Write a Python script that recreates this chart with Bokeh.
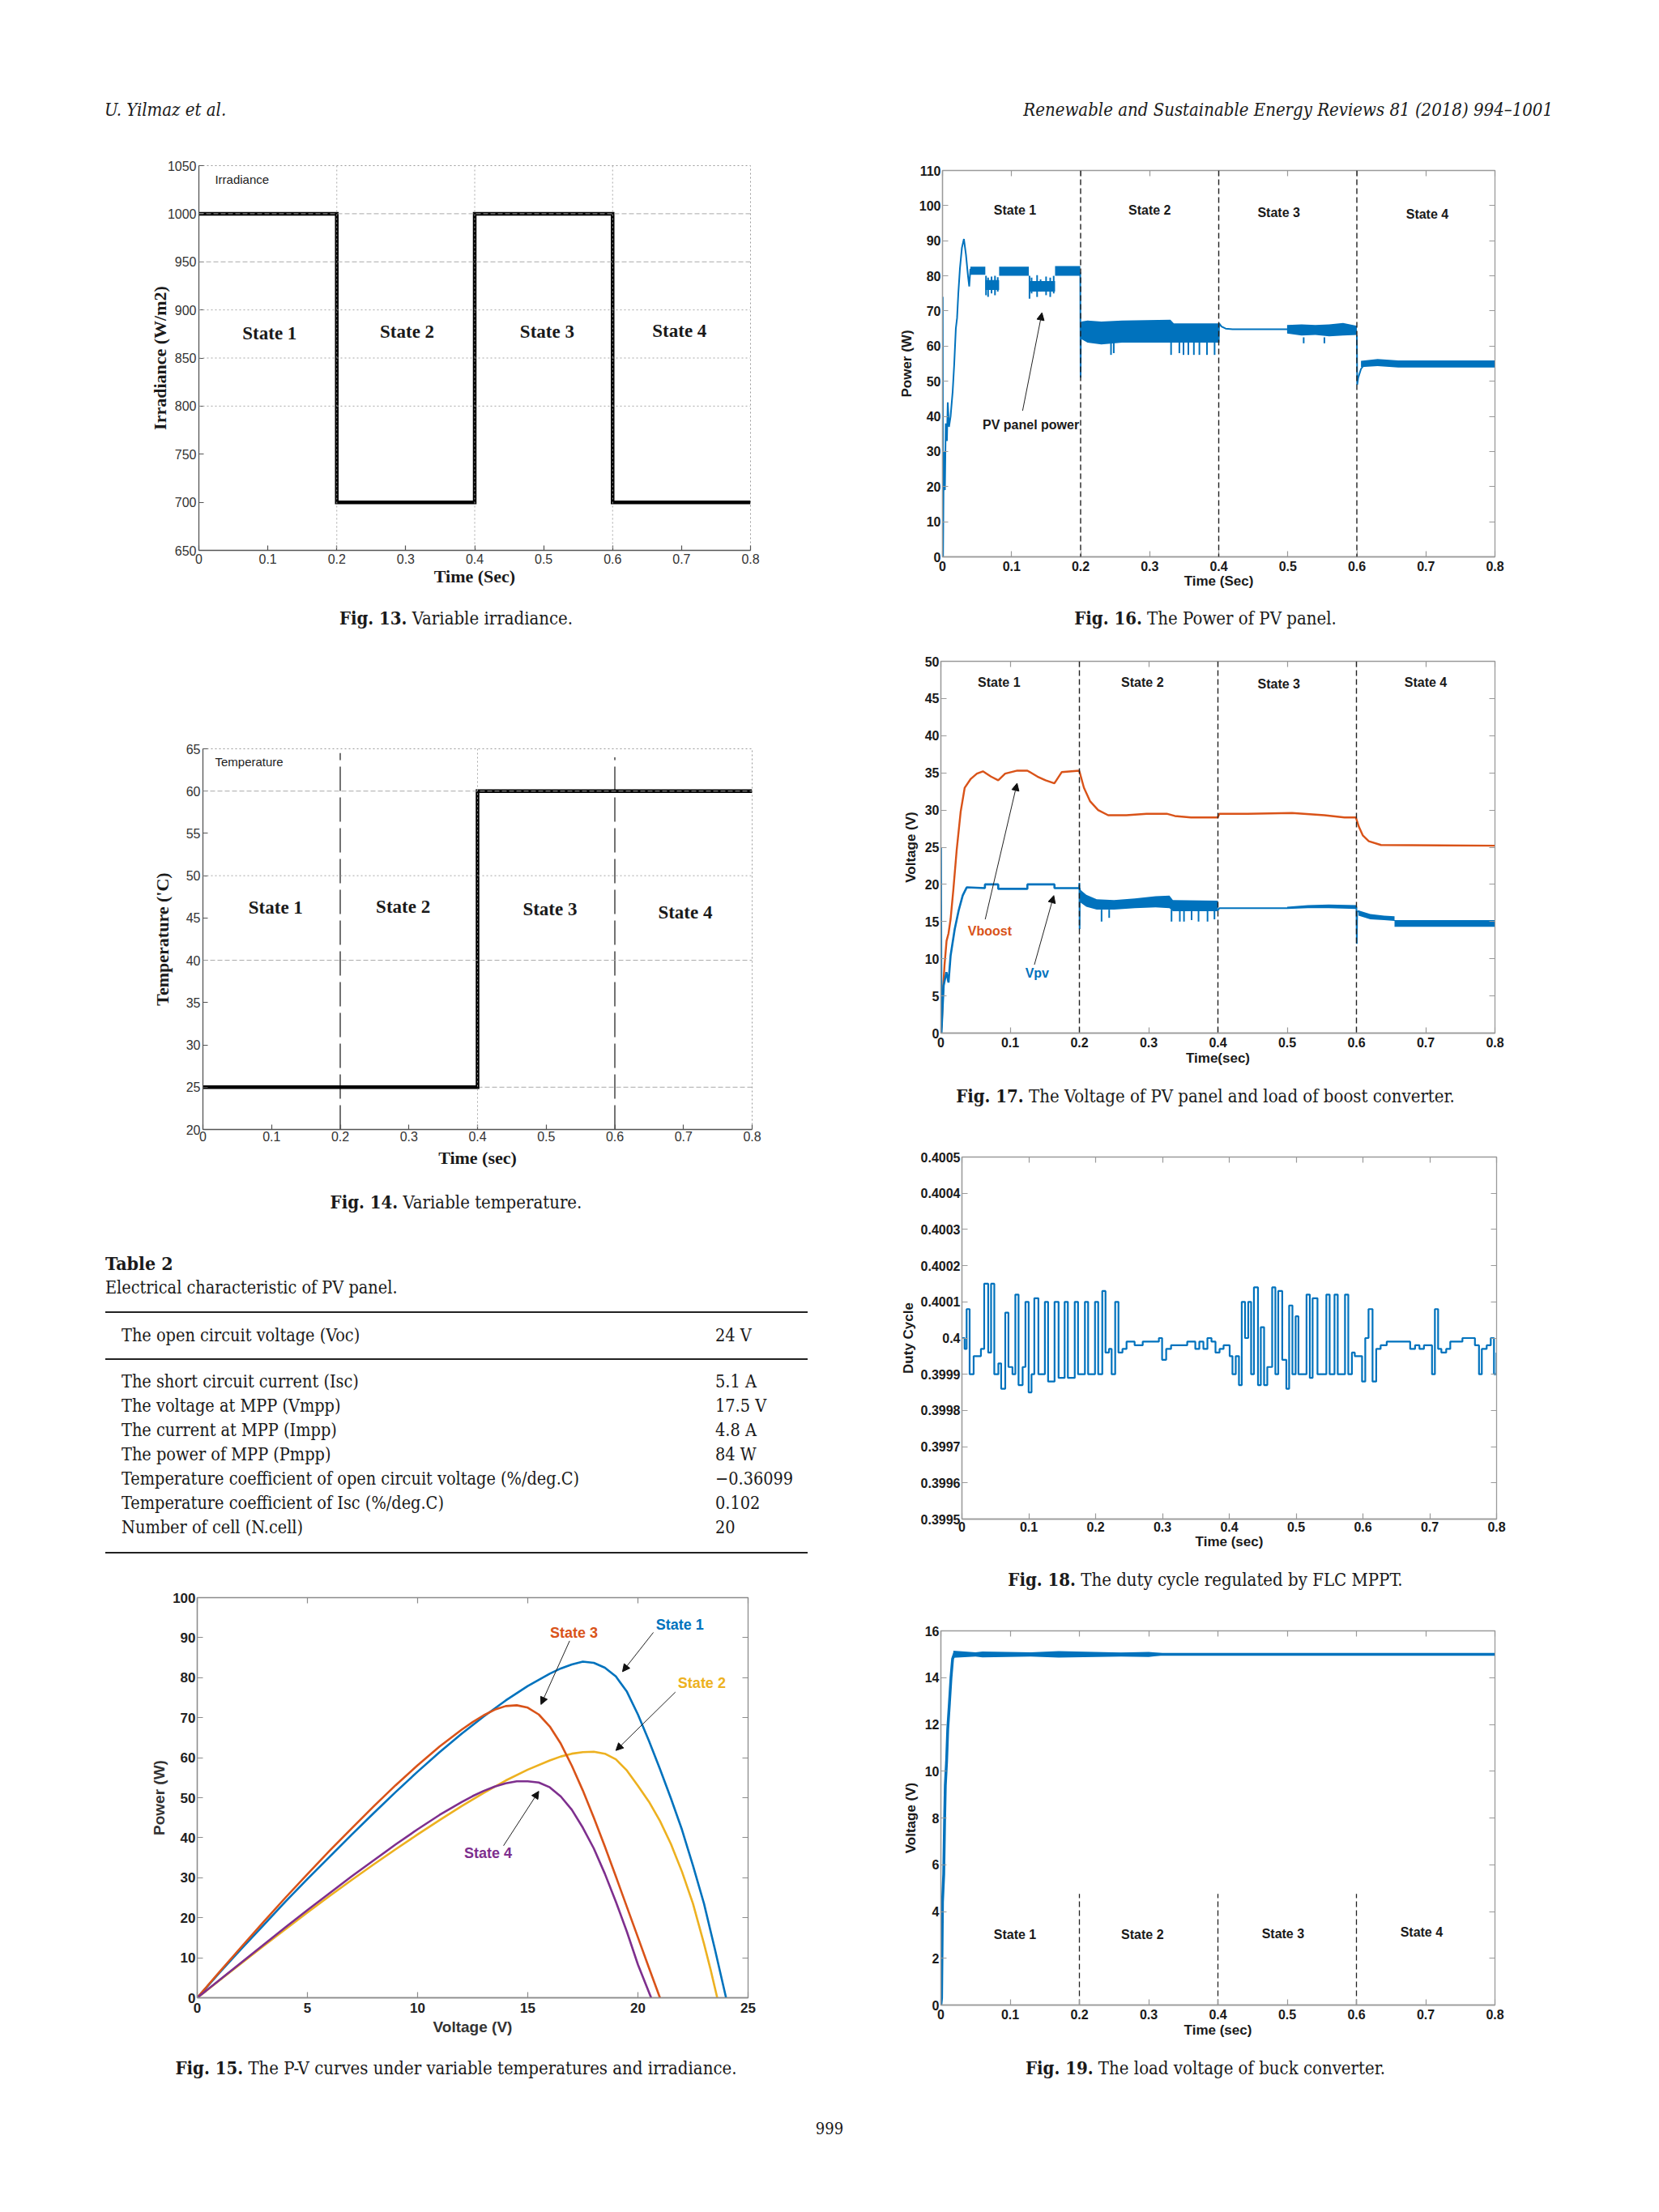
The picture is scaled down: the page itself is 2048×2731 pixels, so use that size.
from bokeh.plotting import figure
from bokeh.models import (Range1d, FixedTicker, CustomJSTickFormatter, LinearAxis,
                          Span, Label, Arrow, NormalHead, Div, Column, Row, Spacer)
from bokeh.embed import file_html
from bokeh.resources import INLINE

# ============================ DATA ============================
state_names = ["State 1", "State 2", "State 3", "State 4"]
state_bounds = [0.2, 0.4, 0.6]
time_ticks = [0, 0.1, 0.2, 0.3, 0.4, 0.5, 0.6, 0.7, 0.8]

# Fig 13 - irradiance
irr_time = [0, 0.2, 0.4, 0.6, 0.8]
irr_value = [1000, 700, 1000, 700, 700]
irr_ticks = [650, 700, 750, 800, 850, 900, 950, 1000, 1050]

# Fig 14 - temperature
temp_time = [0, 0.4, 0.8]
temp_value = [25, 60, 60]
temp_ticks = [20, 25, 30, 35, 40, 45, 50, 55, 60, 65]

# Table 2
table_head_param = "The open circuit voltage (Voc)"
table_head_value = "24 V"
table_params = ["The short circuit current (Isc)", "The voltage at MPP (Vmpp)",
                "The current at MPP (Impp)", "The power of MPP (Pmpp)",
                "Temperature coefficient of open circuit voltage (%/deg.C)",
                "Temperature coefficient of Isc (%/deg.C)", "Number of cell (N.cell)"]
table_values = ["5.1 A", "17.5 V", "4.8 A", "84 W", "\u22120.36099", "0.102", "20"]

# Fig 15 - P-V curves
pv_v_s1 = [0, 1, 2, 3, 4, 5, 6, 7, 8, 9, 10, 11, 12, 13, 14, 15, 16, 16.5, 17, 17.5, 18, 18.5, 19, 19.5,
           20, 20.5, 21, 21.5, 22, 22.5, 23, 23.5, 24]
pv_p_s1 = [0, 6.2, 12.2, 18.1, 24.0, 29.7, 35.2, 40.7, 46.1, 51.4, 56.5, 61.4, 66.0, 70.3, 74.3, 77.9, 81.0,
           82.3, 83.3, 84.0, 83.7, 82.5, 80.3, 76.5, 70.8, 64.2, 57.2, 49.8, 42.0, 33.0, 23.5, 12.0, 0]
pv_v_s2 = [0, 1, 2, 3, 4, 5, 6, 7, 8, 9, 10, 11, 12, 13, 14, 15, 16, 16.5, 17, 17.5, 18, 18.5, 19, 19.5,
           20, 20.5, 21, 21.5, 22, 22.5, 23, 23.3, 23.6]
pv_p_s2 = [0, 4.3, 8.6, 12.9, 17.1, 21.3, 25.4, 29.4, 33.3, 37.1, 40.8, 44.4, 47.9, 51.2, 54.3, 57.0, 59.3,
           60.3, 61.0, 61.4, 61.5, 61.0, 59.6, 56.8, 53.0, 49.0, 44.2, 38.4, 31.5, 23.5, 13.5, 7.0, 0]
pv_v_s3 = [0, 1, 2, 3, 4, 5, 6, 7, 8, 9, 10, 11, 12, 12.5, 13, 13.5, 14, 14.5, 15, 15.5, 16, 16.5, 17,
           17.5, 18, 18.5, 19, 19.5, 20, 20.5, 21]
pv_p_s3 = [0, 6.4, 12.7, 18.9, 25.0, 30.9, 36.7, 42.3, 47.8, 53.1, 58.1, 62.8, 67.0, 68.9, 70.6, 72.0, 72.9,
           73.1, 72.5, 70.8, 67.8, 63.5, 58.0, 51.8, 45.0, 37.8, 30.3, 22.7, 15.1, 7.5, 0]
pv_v_s4 = [0, 1, 2, 3, 4, 5, 6, 7, 8, 9, 10, 11, 12, 12.5, 13, 13.5, 14, 14.5, 15, 15.5, 16, 16.5, 17,
           17.5, 18, 18.5, 19, 19.5, 20, 20.6]
pv_p_s4 = [0, 4.4, 8.8, 13.2, 17.6, 21.9, 26.1, 30.3, 34.3, 38.3, 42.1, 45.7, 48.9, 50.4, 51.7, 52.8, 53.6,
           54.1, 54.1, 53.8, 52.6, 50.3, 47.0, 42.5, 37.3, 31.0, 24.0, 16.5, 8.3, 0]
pv_v_ticks = [0, 5, 10, 15, 20, 25]
pv_p_ticks = [0, 10, 20, 30, 40, 50, 60, 70, 80, 90, 100]

# Fig 16 - PV panel power
p16_t = [0, 0.0003, 0.0008, 0.0015, 0.0025, 0.0035, 0.0047, 0.0064, 0.0076, 0.0094, 0.0117, 0.0147,
         0.017, 0.0193, 0.0211, 0.0229, 0.0252, 0.0281, 0.031, 0.034, 0.0369, 0.0387, 0.0404]
p16_p = [0, 74, 0, 20, 30, 19, 38, 33, 44, 37, 40, 47, 55, 65, 68, 75, 82, 88, 90.5, 86, 80, 77, 82]
p16_b1_t = [0.0404, 0.062, 0.062, 0.082, 0.082, 0.125, 0.125, 0.163, 0.163, 0.1995]
p16_b1_lo = [80.3, 80.3, 76.0, 76.0, 80.0, 80.0, 75.5, 75.5, 80.0, 80.0]
p16_b1_hi = [82.6, 82.6, 78.8, 78.8, 82.6, 82.6, 78.5, 78.5, 82.8, 82.8]
p16_dip_t = [0.063, 0.066, 0.071, 0.076, 0.080, 0.126, 0.129, 0.137, 0.142, 0.150, 0.156, 0.161]
p16_dip_lo = [74.5, 74.0, 75.0, 74.5, 75.5, 73.5, 75.0, 74.0, 75.5, 74.5, 74.0, 75.0]
p16_dip_hi = [80.0, 79.5, 79.8, 80.0, 79.6, 80.0, 79.5, 80.2, 79.0, 79.8, 79.5, 80.0]
p16_tr2_t = [0.1995, 0.2, 0.2004, 0.2012]
p16_tr2_p = [81, 51, 66, 64]
p16_b2_t = [0.2012, 0.21, 0.23, 0.26, 0.33, 0.335, 0.4]
p16_b2_lo = [62.0, 61.0, 60.5, 61.0, 61.0, 61.0, 61.0]
p16_b2_hi = [67.0, 67.3, 67.0, 67.3, 67.5, 66.5, 66.5]
p16_spk_t = [0.244, 0.248, 0.331, 0.343, 0.349, 0.356, 0.364, 0.372, 0.383, 0.394, 0.523, 0.553]
p16_spk_base = [61, 61, 61, 61, 61, 61, 61, 61, 61, 61, 62.5, 62.5]
p16_spk_min = [57.5, 58.0, 57.5, 58.0, 57.5, 57.5, 57.5, 57.5, 57.5, 57.5, 60.8, 60.8]
p16_s3_t = [0.4, 0.4005, 0.404, 0.41, 0.42, 0.5]
p16_s3_p = [61, 66.5, 65.6, 65.0, 64.8, 64.8]
p16_b3_t = [0.499, 0.52, 0.54, 0.56, 0.58, 0.6]
p16_b3_lo = [63.6, 63.0, 63.2, 62.8, 63.0, 63.2]
p16_b3_hi = [66.0, 66.2, 66.0, 66.2, 66.6, 65.8]
p16_s4_t = [0.6, 0.6005, 0.602, 0.606, 0.612, 0.62]
p16_s4_p = [63, 49, 51, 53.5, 55, 55.3]
p16_b4_t = [0.606, 0.63, 0.66, 0.8]
p16_b4_lo = [54.0, 54.3, 53.9, 53.9]
p16_b4_hi = [55.8, 56.3, 55.9, 55.9]
p16_ticks = [0, 10, 20, 30, 40, 50, 60, 70, 80, 90, 100, 110]

# Fig 17 - voltages
v17_boost_t = [0, 0.0012, 0.0035, 0.0053, 0.0082, 0.011, 0.014, 0.018, 0.0228, 0.0286, 0.0344, 0.0432,
               0.052, 0.0607, 0.0723, 0.0828, 0.0928, 0.1103, 0.1249, 0.1394, 0.1511, 0.1639, 0.1744,
               0.1995, 0.2007, 0.2065, 0.2153, 0.227, 0.2415, 0.2678, 0.297, 0.3261, 0.3378, 0.3611,
               0.3997, 0.402, 0.4428, 0.507, 0.5537, 0.5828, 0.5992, 0.6033, 0.6091, 0.6179, 0.6354, 0.8]
v17_boost = [0, 1.1, 6.4, 9.2, 12.4, 13.4, 15.3, 19.3, 24.6, 29.8, 33.0, 34.2, 34.9, 35.2, 34.5, 34.0,
             34.9, 35.3, 35.3, 34.5, 34.0, 33.6, 35.1, 35.3, 35.0, 33.0, 31.2, 30.0, 29.3, 29.3, 29.5,
             29.5, 29.2, 29.0, 29.0, 29.5, 29.5, 29.6, 29.3, 29.0, 29.0, 27.8, 26.6, 25.8, 25.3, 25.2]
v17_pv_t = [0, 0.0004, 0.0008, 0.0023, 0.004, 0.008, 0.011, 0.014, 0.02, 0.0257, 0.0315, 0.0373,
            0.0636, 0.0636, 0.0828, 0.0828, 0.1249, 0.1249, 0.164, 0.164, 0.1995]
v17_pv = [25, 10, 0, 3.1, 6.4, 8.2, 6.8, 10.4, 14.0, 16.5, 18.5, 19.6,
          19.5, 20.0, 20.0, 19.4, 19.4, 20.0, 20.0, 19.5, 19.5]
v17_tr2_t = [0.1995, 0.2, 0.2003, 0.2006, 0.201]
v17_tr2 = [19.5, 20.2, 14.0, 19.5, 19.0]
v17_b2_t = [0.201, 0.21, 0.225, 0.25, 0.28, 0.31, 0.33, 0.335, 0.4]
v17_b2_lo = [17.6, 17.0, 16.6, 16.6, 16.8, 16.9, 16.8, 16.4, 16.4]
v17_b2_hi = [19.3, 18.6, 18.0, 17.9, 18.1, 18.4, 18.5, 17.9, 17.8]
v17_spk_t = [0.232, 0.243, 0.333, 0.345, 0.351, 0.362, 0.372, 0.385, 0.395]
v17_spk_base = [16.6, 16.6, 16.6, 16.6, 16.6, 16.6, 16.6, 16.6, 16.6]
v17_spk_min = [15.0, 15.5, 15.0, 15.0, 15.0, 15.2, 15.0, 15.0, 15.3]
v17_s3_t = [0.4, 0.402, 0.5]
v17_s3 = [16.5, 16.8, 16.8]
v17_b3_t = [0.5, 0.53, 0.56, 0.6]
v17_b3_lo = [16.7, 16.8, 16.8, 16.7]
v17_b3_hi = [17.0, 17.2, 17.3, 17.2]
v17_s4_t = [0.6, 0.6005, 0.601, 0.603, 0.61]
v17_s4 = [17.0, 12.0, 16.3, 16.4, 15.8]
v17_b4_t = [0.603, 0.62, 0.64, 0.655, 0.655, 0.8]
v17_b4_lo = [15.8, 15.3, 15.2, 15.1, 14.3, 14.3]
v17_b4_hi = [16.5, 16.0, 15.8, 15.7, 15.2, 15.2]
v17_ticks = [0, 5, 10, 15, 20, 25, 30, 35, 40, 45, 50]

# Fig 18 - duty cycle (step)
duty_t = [0.000, 0.004, 0.007, 0.0115, 0.0175, 0.0284, 0.0333, 0.0393, 0.0436, 0.0484,
          0.0545, 0.0587, 0.0648, 0.0696, 0.0756, 0.0799, 0.0847, 0.0908, 0.0950, 0.0998,
          0.1041, 0.1083, 0.1144, 0.1241, 0.1289, 0.1386, 0.1446, 0.1537, 0.1585, 0.1688,
          0.1737, 0.1840, 0.1888, 0.1991, 0.2039, 0.2100, 0.2148, 0.2200, 0.2240, 0.2293,
          0.2342, 0.2402, 0.2463, 0.2584, 0.2705, 0.2826, 0.2947, 0.2995, 0.3056, 0.3129,
          0.3371, 0.3492, 0.3552, 0.3613, 0.3673, 0.3734, 0.3794, 0.3855, 0.3915, 0.4006,
          0.4048, 0.4097, 0.4145, 0.4187, 0.4236, 0.4284, 0.4327, 0.4369, 0.4430, 0.4472,
          0.4521, 0.4569, 0.4642, 0.4690, 0.4733, 0.4793, 0.4854, 0.4896, 0.4945, 0.4993,
          0.5035, 0.5156, 0.5205, 0.5247, 0.5320, 0.5453, 0.5502, 0.5575, 0.5623, 0.5732,
          0.5781, 0.5835, 0.5878, 0.5987, 0.6035, 0.6084, 0.6144, 0.6199, 0.6265, 0.6356,
          0.6707, 0.6780, 0.6846, 0.6913, 0.7034, 0.7077, 0.7125, 0.7174, 0.7246, 0.7307,
          0.7489, 0.7676, 0.7737, 0.7779, 0.7852, 0.7913, 0.7961, 0.8000]
duty_d = [0.40000, 0.39997, 0.40008, 0.39990, 0.39995, 0.39997, 0.40015, 0.39996, 0.40015, 0.39990,
          0.39993, 0.39986, 0.40007, 0.39992, 0.39990, 0.40012, 0.39987, 0.39992, 0.40010, 0.39985,
          0.39990, 0.40011, 0.39990, 0.40010, 0.39988, 0.40010, 0.39989, 0.40010, 0.39989, 0.40010,
          0.39990, 0.40010, 0.39990, 0.40010, 0.39990, 0.40013, 0.39996, 0.39997, 0.39990, 0.40010,
          0.39996, 0.39997, 0.39999, 0.39998, 0.39999, 0.39999, 0.40000, 0.39994, 0.39997, 0.39998,
          0.39999, 0.39997, 0.39999, 0.39997, 0.40000, 0.39999, 0.39996, 0.39997, 0.39998, 0.39995,
          0.39990, 0.39995, 0.39987, 0.40010, 0.40000, 0.40010, 0.39990, 0.40014, 0.39987, 0.40003,
          0.39987, 0.39992, 0.40014, 0.39990, 0.40013, 0.39994, 0.39986, 0.40009, 0.39990, 0.40006,
          0.39990, 0.40012, 0.39989, 0.40011, 0.39990, 0.40012, 0.39990, 0.40012, 0.39990, 0.40012,
          0.39990, 0.39996, 0.39995, 0.39988, 0.40000, 0.40008, 0.39988, 0.39997, 0.39998, 0.39999,
          0.39997, 0.39998, 0.39997, 0.39998, 0.39990, 0.40008, 0.39997, 0.39996, 0.39997, 0.39999,
          0.40000, 0.39998, 0.39990, 0.39997, 0.39998, 0.40000, 0.39990, 0.39996]
duty_ticks = [0.3995, 0.3996, 0.3997, 0.3998, 0.3999, 0.4, 0.4001, 0.4002, 0.4003, 0.4004, 0.4005]

# Fig 19 - buck load voltage
v19_t = [0, 0.001, 0.0023, 0.0041, 0.0053, 0.0064, 0.0082, 0.0099, 0.0123, 0.0146, 0.0169, 0.0198, 0.03, 0.8]
v19 = [0, 0.3, 4.4, 5.6, 7.8, 9.4, 10.4, 11.8, 12.9, 14.0, 14.8, 15.05, 15.0, 15.0]
v19_b_t = [0.018, 0.05, 0.06, 0.13, 0.17, 0.26, 0.30, 0.32]
v19_b_lo = [14.85, 14.9, 14.87, 14.9, 14.86, 14.9, 14.88, 14.95]
v19_b_hi = [15.15, 15.08, 15.12, 15.08, 15.13, 15.07, 15.1, 15.05]
v19_ticks = [0, 2, 4, 6, 8, 10, 12, 14, 16]

# ============================ STYLE ============================
SANS = "Liberation Sans"
TNR = "Liberation Serif"
BODY_FAM = "'DejaVu Serif Condensed','DejaVu Serif',serif"
BLUE, ORANGE, YELLOW, PURPLE = "#0072BD", "#D95319", "#EDB120", "#7E2F8E"
TXT = "#1a1a1a"


def fmt():
    return CustomJSTickFormatter(code="return String(Math.round(tick*10000)/10000);")


def make_fig(w, h, bl, br, bt, bb, xr, yr):
    p = figure(width=w, height=h, x_range=Range1d(xr[0], xr[1]), y_range=Range1d(yr[0], yr[1]),
               output_backend="svg", toolbar_location=None,
               min_border_left=bl, min_border_right=br, min_border_top=bt, min_border_bottom=bb,
               margin=0)
    p.xgrid.visible = False
    p.ygrid.visible = False
    p.background_fill_color = "white"
    p.border_fill_color = "white"
    return p


def shifted(fig, dx):
    return Row(children=[Spacer(width=dx, height=fig.height, margin=0), fig], spacing=0, margin=0)


def style_axis(ax, ticks, tfont, tsize, tstyle, tcolor, lcolor, tso, label, lfont, lsize, lstyle,
               labcolor, lso, tick_len=7):
    ax.ticker = FixedTicker(ticks=ticks)
    ax.formatter = fmt()
    ax.major_label_text_font = tfont
    ax.major_label_text_font_size = f"{tsize}px"
    ax.major_label_text_font_style = tstyle
    ax.major_label_text_color = tcolor
    ax.major_label_standoff = tso
    ax.axis_line_color = lcolor
    ax.axis_line_width = 1.3
    ax.major_tick_line_color = lcolor
    ax.major_tick_line_width = 1.2
    ax.major_tick_in = tick_len
    ax.major_tick_out = 0
    ax.minor_tick_line_color = None
    ax.axis_label = label
    ax.axis_label_text_font = lfont
    ax.axis_label_text_font_size = f"{lsize}px"
    ax.axis_label_text_font_style = lstyle
    ax.axis_label_text_color = labcolor
    ax.axis_label_standoff = lso


def add_mirror(p, xticks, yticks, color, tick_len=7):
    for loc, ticks in (("above", xticks), ("right", yticks)):
        ax = LinearAxis(ticker=FixedTicker(ticks=ticks),
                        formatter=CustomJSTickFormatter(code="return '';"),
                        major_label_text_font_size="0px", major_label_standoff=0,
                        major_tick_in=tick_len, major_tick_out=0, minor_tick_line_color=None,
                        axis_line_color=color, major_tick_line_color=color, major_tick_line_width=1.2)
        p.add_layout(ax, loc)


def lab(p, x, y, text, font=SANS, size=16, style="bold", color=TXT, align="center"):
    p.add_layout(Label(x=x, y=y, text=text, text_font=font, text_font_size=f"{size}px",
                       text_font_style=style, text_color=color, text_align=align,
                       text_baseline="middle"))


def arrow(p, x0, y0, x1, y1):
    p.add_layout(Arrow(end=NormalHead(size=9, fill_color="#111", line_color="#111", line_width=1),
                       x_start=x0, y_start=y0, x_end=x1, y_end=y1, line_color="#222", line_width=1))


# Left column: common borders 230 / 80, frames shifted with spacers
# Right column: common borders 150 / 190
# ============================ FIG 13 ============================
f13 = make_fig(991, 562, 230, 80, 16, 71, (0, 0.8), (650, 1050))
f13.outline_line_color = "#9a9a9a"
f13.outline_line_dash = "2 3"
for b in state_bounds:
    f13.add_layout(Span(location=b, dimension="height", line_color="#a8a8a8", line_dash="2 3", line_width=1))
for yv, dash in ((1000, "6 3"), (950, "6 3"), (900, "2 3"), (850, "2 3"), (800, "2 3")):
    f13.add_layout(Span(location=yv, dimension="width", line_color="#a8a8a8", line_dash=dash, line_width=1))
f13.step(x=irr_time, y=irr_value, mode="after", line_width=4.5, line_color="black", line_join="miter")
style_axis(f13.xaxis[0], time_ticks, SANS, 16, "normal", "#333", "#555", 4, "Time (Sec)", TNR, 22, "bold", TXT, 0, 6)
style_axis(f13.yaxis[0], irr_ticks, SANS, 16, "normal", "#333", "#555", 3, "Irradiance (W/m2)", TNR, 22, "bold", TXT, -6, 6)
lab(f13, 0.0234, 1036, "Irradiance", SANS, 15, "normal", "#222", "left")
for x, y, s in ((0.1026, 876, state_names[0]), (0.302, 877, state_names[1]),
                (0.505, 877, state_names[2]), (0.697, 878, state_names[3])):
    lab(f13, x, y, s, TNR, 23, "bold", TXT)

# ============================ FIG 14 ============================
f14 = make_fig(988, 680, 230, 80, 134, 76, (0, 0.8), (20, 65))
f14.outline_line_color = "#9a9a9a"
f14.outline_line_dash = "2 3"
for yv, dash in ((60, "6 3"), (50, "2 3"), (40, "6 3")):
    f14.add_layout(Span(location=yv, dimension="width", line_color="#a8a8a8", line_dash=dash, line_width=1))
f14.segment(x0=[0.4], y0=[25], x1=[0.8], y1=[25], line_color="#a8a8a8", line_dash="6 3", line_width=1)
f14.add_layout(Span(location=0.4, dimension="height", line_color="#a8a8a8", line_dash="2 3", line_width=1))
f14.segment(x0=[0.2, 0.6], y0=[20, 20], x1=[0.2, 0.6], y1=[64.5, 64.0], line_color="#444",
            line_dash="30 8", line_width=1.5)
f14.step(x=temp_time, y=temp_value, mode="after", line_width=4.5, line_color="black", line_join="miter")
style_axis(f14.xaxis[0], time_ticks, SANS, 16, "normal", "#333", "#555", 2, "Time (sec)", TNR, 22, "bold", TXT, 5, 6)
style_axis(f14.yaxis[0], temp_ticks, SANS, 16, "normal", "#333", "#555", 3, "Temperature ('C)", TNR, 22, "bold", TXT, 14, 6)
lab(f14, 0.0177, 63.5, "Temperature", SANS, 15, "normal", "#222", "left")
for x, y, s in ((0.106, 46.2, state_names[0]), (0.2916, 46.3, state_names[1]),
                (0.5055, 46.0, state_names[2]), (0.7026, 45.7, state_names[3])):
    lab(f14, x, y, s, TNR, 23, "bold", TXT)

# ============================ FIG 15 ============================
f15 = make_fig(990, 595, 230, 80, 32, 69, (0, 25), (0, 100))
f15.outline_line_color = "#8c8c8c"
f15.outline_line_width = 1.3
for vv, pp, c in ((pv_v_s1, pv_p_s1, BLUE), (pv_v_s2, pv_p_s2, YELLOW),
                  (pv_v_s3, pv_p_s3, ORANGE), (pv_v_s4, pv_p_s4, PURPLE)):
    f15.line(x=vv, y=pp, line_color=c, line_width=2.6, line_join="round")
style_axis(f15.xaxis[0], pv_v_ticks, SANS, 17, "bold", "#222", "#8c8c8c", 6, "Voltage (V)", SANS, 19, "bold", "#333", 4)
style_axis(f15.yaxis[0], pv_p_ticks, SANS, 17, "bold", "#222", "#8c8c8c", 2, "Power (W)", SANS, 19, "bold", "#333", 3)
add_mirror(f15, pv_v_ticks, pv_p_ticks, "#8c8c8c")
lab(f15, 21.9, 93.2, "State 1", SANS, 18, "bold", BLUE)
lab(f15, 17.1, 91.2, "State 3", SANS, 18, "bold", ORANGE)
lab(f15, 22.9, 78.6, "State 2", SANS, 18, "bold", YELLOW)
lab(f15, 13.2, 36.1, "State 4", SANS, 18, "bold", PURPLE)
arrow(f15, 20.7, 91.3, 19.3, 81.5)
arrow(f15, 16.9, 89.2, 15.6, 73.3)
arrow(f15, 21.7, 76.4, 19.0, 61.8)
arrow(f15, 13.9, 38.0, 15.5, 51.6)

# ============================ FIG 16 ============================
f16 = make_fig(1022, 562, 150, 190, 22, 63, (0, 0.8), (0, 110))
f16.outline_line_color = "#9a9a9a"
f16.outline_line_width = 1.3
for b in state_bounds:
    f16.add_layout(Span(location=b, dimension="height", line_color="#222", line_dash="7 4", line_width=1.4))
f16.line(x=p16_t, y=p16_p, line_color=BLUE, line_width=2)
for bt_, lo, hi in ((p16_b1_t, p16_b1_lo, p16_b1_hi), (p16_b2_t, p16_b2_lo, p16_b2_hi),
                    (p16_b3_t, p16_b3_lo, p16_b3_hi), (p16_b4_t, p16_b4_lo, p16_b4_hi)):
    f16.varea(x=bt_, y1=lo, y2=hi, fill_color=BLUE)
f16.segment(x0=p16_dip_t, y0=p16_dip_lo, x1=p16_dip_t, y1=p16_dip_hi, line_color=BLUE, line_width=2)
for tt, pp in ((p16_tr2_t, p16_tr2_p), (p16_s3_t, p16_s3_p), (p16_s4_t, p16_s4_p)):
    f16.line(x=tt, y=pp, line_color=BLUE, line_width=2)
f16.segment(x0=p16_spk_t, y0=p16_spk_base, x1=p16_spk_t, y1=p16_spk_min, line_color=BLUE, line_width=2)
style_axis(f16.xaxis[0], time_ticks, SANS, 16, "bold", TXT, "#9a9a9a", 5, "Time (Sec)", SANS, 17, "bold", TXT, 0)
style_axis(f16.yaxis[0], p16_ticks, SANS, 16, "bold", TXT, "#9a9a9a", 2, "Power (W)", SANS, 17, "bold", TXT, 3)
add_mirror(f16, time_ticks, p16_ticks, "#9a9a9a")
for x, y, s in ((0.105, 98.7, state_names[0]), (0.30, 98.7, state_names[1]),
                (0.487, 98.0, state_names[2]), (0.702, 97.5, state_names[3])):
    lab(f16, x, y, s, SANS, 16, "bold", TXT)
lab(f16, 0.128, 37.5, "PV panel power", SANS, 16, "bold", TXT)
arrow(f16, 0.116, 41.6, 0.144, 69.5)

# ============================ FIG 17 ============================
f17 = make_fig(1024, 545, 150, 190, 26, 60, (0, 0.8), (0, 50))
f17.outline_line_color = "#9a9a9a"
f17.outline_line_width = 1.3
for b in state_bounds:
    f17.add_layout(Span(location=b, dimension="height", line_color="#222", line_dash="7 4", line_width=1.4))
f17.line(x=v17_boost_t, y=v17_boost, line_color=ORANGE, line_width=2.4)
f17.line(x=v17_pv_t, y=v17_pv, line_color=BLUE, line_width=2.6)
for bt_, lo, hi in ((v17_b2_t, v17_b2_lo, v17_b2_hi), (v17_b3_t, v17_b3_lo, v17_b3_hi),
                    (v17_b4_t, v17_b4_lo, v17_b4_hi)):
    f17.varea(x=bt_, y1=lo, y2=hi, fill_color=BLUE)
for tt, vv in ((v17_tr2_t, v17_tr2), (v17_s3_t, v17_s3), (v17_s4_t, v17_s4)):
    f17.line(x=tt, y=vv, line_color=BLUE, line_width=2)
f17.segment(x0=v17_spk_t, y0=v17_spk_base, x1=v17_spk_t, y1=v17_spk_min, line_color=BLUE, line_width=2)
style_axis(f17.xaxis[0], time_ticks, SANS, 16, "bold", TXT, "#9a9a9a", 5, "Time(sec)", SANS, 17, "bold", TXT, 1)
style_axis(f17.yaxis[0], v17_ticks, SANS, 16, "bold", TXT, "#9a9a9a", 2, "Voltage (V)", SANS, 17, "bold", TXT, 5)
add_mirror(f17, time_ticks, v17_ticks, "#9a9a9a")
for x, y, s in ((0.084, 47.2, state_names[0]), (0.291, 47.2, state_names[1]),
                (0.488, 47.0, state_names[2]), (0.70, 47.2, state_names[3])):
    lab(f17, x, y, s, SANS, 16, "bold", TXT)
lab(f17, 0.0706, 13.7, "Vboost", SANS, 16, "bold", ORANGE)
lab(f17, 0.139, 8.1, "Vpv", SANS, 16, "bold", BLUE)
arrow(f17, 0.064, 15.3, 0.11, 33.6)
arrow(f17, 0.135, 9.2, 0.163, 18.5)

# ============================ FIG 18 ============================
f18 = make_fig(1000, 560, 150, 190, 53, 60, (0, 0.8), (0.3995, 0.4005))
f18.outline_line_color = "#9a9a9a"
f18.outline_line_width = 1.3
f18.step(x=duty_t, y=duty_d, mode="after", line_color=BLUE, line_width=2.2)
style_axis(f18.xaxis[0], time_ticks, SANS, 16, "bold", TXT, "#9a9a9a", 3, "Time (sec)", SANS, 17, "bold", TXT, 0)
style_axis(f18.yaxis[0], duty_ticks, SANS, 16, "bold", TXT, "#9a9a9a", 2, "Duty Cycle", SANS, 17, "bold", TXT, 3)
add_mirror(f18, time_ticks, duty_ticks, "#9a9a9a")

# ============================ FIG 19 ============================
f19 = make_fig(1024, 560, 150, 190, 38, 60, (0, 0.8), (0, 16))
f19.outline_line_color = "#9a9a9a"
f19.outline_line_width = 1.3
f19.segment(x0=state_bounds, y0=[0, 0, 0], x1=state_bounds, y1=[4.75, 4.75, 4.75],
            line_color="#222", line_dash="7 4", line_width=1.3)
f19.varea(x=v19_b_t, y1=v19_b_lo, y2=v19_b_hi, fill_color=BLUE)
f19.line(x=v19_t, y=v19, line_color=BLUE, line_width=3.5)
style_axis(f19.xaxis[0], time_ticks, SANS, 16, "bold", TXT, "#9a9a9a", 5, "Time (sec)", SANS, 17, "bold", TXT, 1)
style_axis(f19.yaxis[0], v19_ticks, SANS, 16, "bold", TXT, "#9a9a9a", 2, "Voltage (V)", SANS, 17, "bold", TXT, 5)
add_mirror(f19, time_ticks, v19_ticks, "#9a9a9a")
for x, y, s in ((0.107, 3.0, state_names[0]), (0.291, 3.0, state_names[1]),
                (0.494, 3.05, state_names[2]), (0.694, 3.1, state_names[3])):
    lab(f19, x, y, s, SANS, 16, "bold", TXT)


# ============================ TEXT BLOCKS ============================
def tdiv(w, h, inner):
    return Div(text=f'<div style="position:relative;width:{w}px;height:{h}px;">{inner}</div>',
               width=w, height=h, margin=0)


def t_abs(left, top, html, size=22, weight="normal", style="normal", align="left", width=600):
    if align == "center":
        pos = f"left:{left - width // 2}px;width:{width}px;text-align:center;"
    elif align == "right":
        pos = f"right:{left}px;text-align:right;"
    else:
        pos = f"left:{left}px;"
    return (f'<div style="position:absolute;{pos}top:{top}px;white-space:nowrap;'
            f'font-family:{BODY_FAM};font-size:{size}px;font-weight:{weight};font-style:{style};'
            f'color:{TXT};line-height:26px;">{html}</div>')


def rule(left, top, width):
    return (f'<div style="position:absolute;left:{left}px;top:{top}px;width:{width}px;'
            f'height:0;border-top:2px solid #222;"></div>')


def caption(w, h, cx, top, num, txt):
    return tdiv(w, h, t_abs(cx, top, f"<b>Fig. {num}.</b> {txt}", 22, align="center", width=900))


header = tdiv(2040, 188,
              t_abs(129, 123, "U. Yilmaz et al.", 22, style="italic") +
              t_abs(123, 123, "Renewable and Sustainable Energy Reviews 81 (2018) 994\u20131001", 22,
                    style="italic", align="right"))
footer = tdiv(2040, 110, t_abs(1024, 25, "999", 20, align="center", width=200))

cap13 = caption(1008, 40, 563, 0, 13, "Variable irradiance.")
cap14 = caption(1008, 40, 563, 1, 14, "Variable temperature.")
cap15 = caption(1008, 55, 563, 5, 15, "The P-V curves under variable temperatures and irradiance.")
cap16 = caption(1032, 40, 480, 0, 16, "The Power of PV panel.")
cap17 = caption(1032, 40, 480, 5, 17, "The Voltage of PV panel and load of boost converter.")
cap18 = caption(1032, 40, 480, 2, 18, "The duty cycle regulated by FLC MPPT.")
cap19 = caption(1032, 55, 480, 5, 19, "The load voltage of buck converter.")

row_tops = [183, 213, 243, 273, 303, 333, 363]
tbl = t_abs(130, 37, "Table 2", 23, weight="bold")
tbl += t_abs(130, 67, "Electrical characteristic of PV panel.", 21.5)
tbl += rule(130, 109, 867)
tbl += t_abs(150, 126, table_head_param, 21.5) + t_abs(883, 126, table_head_value, 21.5)
tbl += rule(130, 167, 867)
for tp, prm, val in zip(row_tops, table_params, table_values):
    tbl += t_abs(150, tp, prm, 21.5) + t_abs(883, tp, val, 21.5)
tbl += rule(130, 406, 867)
table = tdiv(1008, 430, tbl)

left = Column(children=[shifted(f13, 15), cap13, shifted(f14, 20), cap14, table,
                        shifted(f15, 13), cap15], spacing=0, margin=0)
right = Column(children=[shifted(f16, 5), cap16, shifted(f17, 3), cap17, shifted(f18, 29), cap18,
                         shifted(f19, 3), cap19], spacing=0, margin=0)
body = Row(children=[left, right], spacing=0, margin=0)
page = Column(children=[header, body, footer], spacing=0, margin=0)

open("out.html", "w").write(file_html(page, INLINE, title="Renewable and Sustainable Energy Reviews 81 (2018) 994-1001"))
